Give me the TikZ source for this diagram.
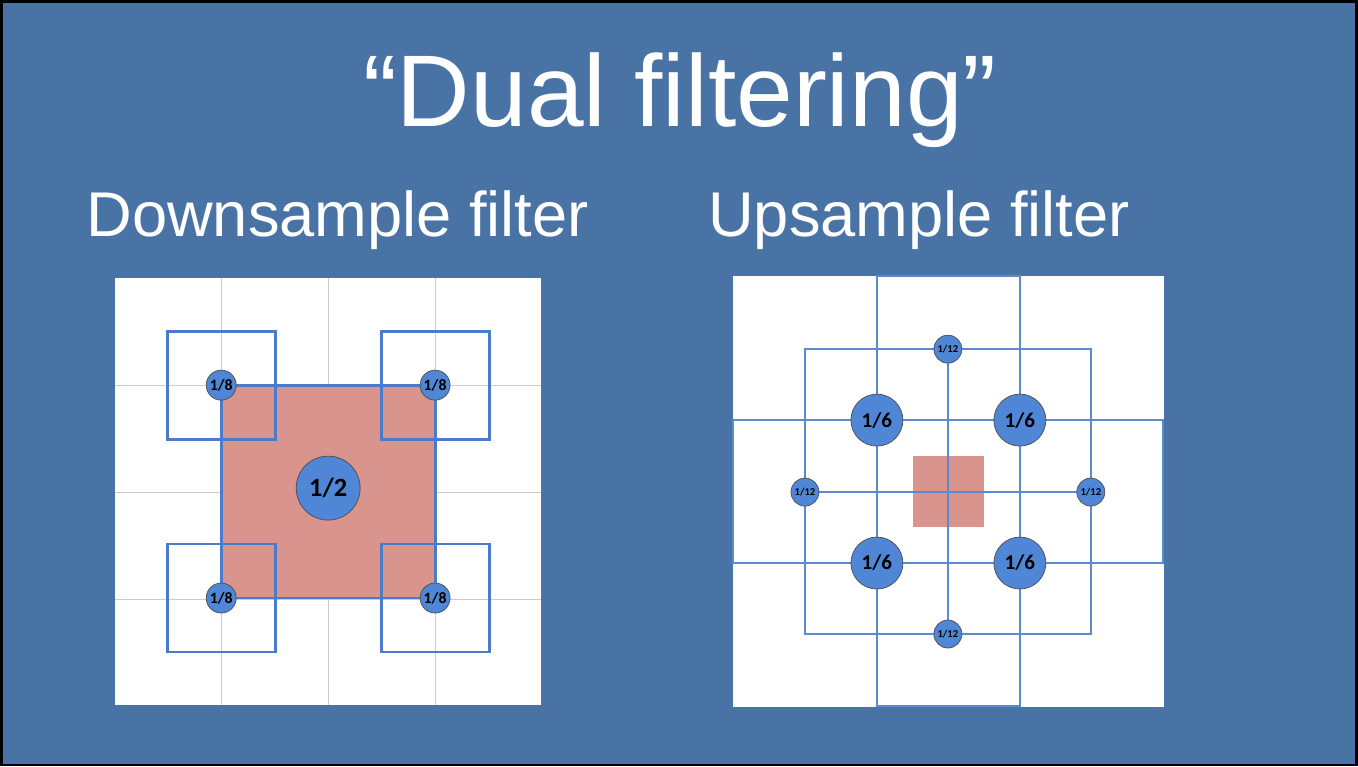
\documentclass[tikz,border=0pt]{standalone}
\usepackage{fontspec}
\setmainfont{Liberation Sans}
\newfontfamily\labelfont{Carlito}
\definecolor{slideblue}{HTML}{4A73A5}
\definecolor{boxblue}{HTML}{4A7CCB}
\definecolor{dotblue}{HTML}{4F86D6}
\definecolor{texelred}{HTML}{D9958D}
\tikzset{
	dot/.style={circle, draw=black!70, fill=dotblue, inner sep=0pt, font=\labelfont\bfseries},
	box/.style={draw=boxblue, line width=1.6pt},
	thinbox/.style={draw=boxblue!90!white, line width=1.1pt}
}
\begin{document}
\begin{tikzpicture}
	[
	x=0.02cm, y=-0.02cm
	%Pixelraster des Originals
	]
	%Hintergrund
	\fill[slideblue] (0,0) rectangle (1358,766);
	\draw[black, line width=1.5pt] (1,1) rectangle (1357,765);
	\useasboundingbox (0,0) rectangle (1358,766);
	
	%Titel
	\node[white, font=\fontsize{58}{60}\selectfont] (title) at (680,100) {“Dual filtering”};
	\node[white, font=\fontsize{36}{40}\selectfont, anchor=west] (down) at (80,220) {Downsample filter};
	\node[white, font=\fontsize{36}{40}\selectfont, anchor=west] (up) at (702,220) {Upsample filter};
	
	%Downsample
	\begin{scope}
		\fill[white] (115,278) rectangle (541,705);
		\foreach \p in {221,328,435}{
			\draw[gray!40] (\p,278) -- (\p,705);
			\draw[gray!40] (115,\p+164) -- (541,\p+164);
		}
		\fill[texelred] (221,385) rectangle (435,598);
		\draw[box] (221,385) rectangle (435,598);
		\foreach \x/\y/\n in {221/385/a,435/385/b,221/598/c,435/598/d}{
			\draw[box] (\x-54,\y-54) rectangle (\x+54,\y+54);
			\node[dot, minimum size=30*0.02cm, font=\labelfont\bfseries\fontsize{9}{10}\selectfont] (d\n) at (\x,\y) {1/8};
		}
		\node[dot, minimum size=64*0.02cm, font=\labelfont\bfseries\fontsize{15}{16}\selectfont] (dmid) at (328,488) {1/2};
	\end{scope}
	
	%Upsample
	\begin{scope}
		\fill[white] (733,276) rectangle (1164,707);
		\fill[texelred] (913,456) rectangle (984,527);
		\draw[thinbox] (877,276) rectangle (1020,706);
		\draw[thinbox] (733,420) rectangle (1163,563);
		\draw[thinbox] (805,349) rectangle (1091,634);
		\draw[thinbox] (948,349) -- (948,634);
		\draw[thinbox] (805,492) -- (1091,492);
		\foreach \x/\y/\n in {877/420/a,1020/420/b,877/563/c,1020/563/d}
			\node[dot, minimum size=52*0.02cm, font=\labelfont\bfseries\fontsize{12}{13}\selectfont] (u\n) at (\x,\y) {1/6};
		\foreach \x/\y/\n in {948/349/n,948/634/s,805/492/w,1091/492/e}
			\node[dot, minimum size=28*0.02cm, font=\labelfont\bfseries\fontsize{6}{7}\selectfont] (t\n) at (\x,\y) {1/12};
	\end{scope}
\end{tikzpicture}
\end{document}
